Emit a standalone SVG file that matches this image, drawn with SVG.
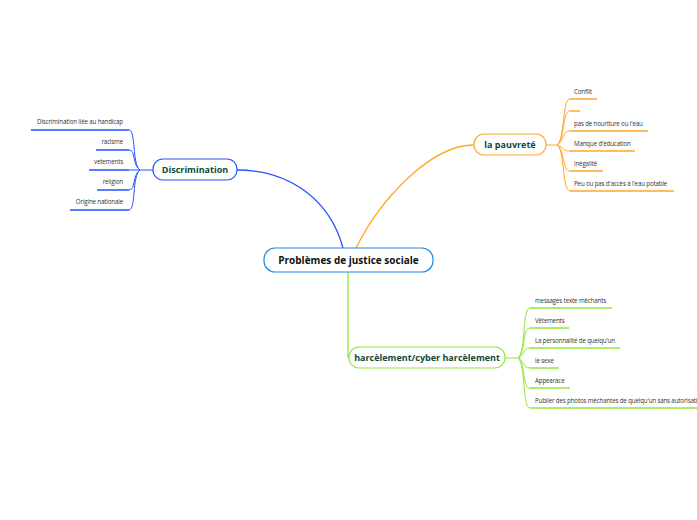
<svg xmlns="http://www.w3.org/2000/svg" width="697" height="520" viewBox="0 0 697 520">
<style>
text{font-family:"Open Sans","Noto Sans",sans-serif;}
.t{font-size:6.2px;fill:#333;letter-spacing:-0.15px}
.n{font-size:9px;font-weight:bold;fill:#0d4a3a}
.b{stroke:#2255ff;fill:none}
.o{stroke:#ffa726;fill:none}
.g{stroke:#8fe83a;fill:none}
</style>
<rect width="697" height="520" fill="#fff"/>
<g id="connectors" stroke-width="1">
<path class="b" d="M343 248 C330 200 290 170 237 170" stroke-width="1.3"/>
<path class="o" d="M356 248 C380 200 430 145 474 145" stroke-width="1.3"/>
<path class="g" d="M348 272 V357 H349" stroke-width="1.3"/>
<g class="o">
<path d="M546 145 H557"/>
<path d="M557 145 C565 140 562 99 570 99"/>
<path d="M557 145 C565 140 562 111 570 111"/>
<path d="M557 145 C565 140 562 131 570 131"/>
<path d="M557 145 C565 148 562 151 570 151"/>
<path d="M557 145 C565 150 562 171 570 171"/>
<path d="M557 145 C565 150 562 191 570 191"/>
</g>
<g class="b">
<path d="M153 170 H140"/>
<path d="M140 170 C132 165 136 130 129 130"/>
<path d="M140 170 C132 165 136 150 129 150"/>
<path d="M140 170 H129"/>
<path d="M140 170 C132 175 136 190 129 190"/>
<path d="M140 170 C132 175 136 210 129 210"/>
</g>
<g class="g">
<path d="M505 358 H518"/>
<path d="M518 358 C526 352 522 308 530 308"/>
<path d="M518 358 C526 352 522 328 530 328"/>
<path d="M518 358 C526 355 522 348 530 348"/>
<path d="M518 358 C526 361 522 368 530 368"/>
<path d="M518 358 C526 364 522 388 530 388"/>
<path d="M518 358 C526 364 522 408 530 408"/>
</g>
</g>
<g id="center">
<rect x="264" y="248" width="169" height="24" rx="11" fill="#fff" stroke="#1e88e5" stroke-width="1.2"/>
<text x="348.5" y="263.5" text-anchor="middle" style="font-size:10px;font-weight:bold;fill:#111">Problèmes de justice sociale</text>
</g>
<g id="pauvrete">
<rect x="474" y="134" width="72" height="21" rx="10" fill="#fff" stroke="#ffa726" stroke-width="1.2"/>
<text class="n" x="510" y="148" text-anchor="middle">la pauvreté</text>
<g stroke="#ffa726" stroke-width="1.5">
<line x1="570" y1="99" x2="597" y2="99"/><line x1="570" y1="111" x2="580" y2="111"/>
<line x1="570" y1="131" x2="648" y2="131"/><line x1="570" y1="151" x2="635" y2="151"/>
<line x1="570" y1="171" x2="603" y2="171"/><line x1="570" y1="191" x2="674" y2="191"/>
</g>
<text class="t" x="574" y="94">Conflit</text>
<text class="t" x="574" y="126">pas de nouriture ou l'eau</text>
<text class="t" x="574" y="146">Manque d'éducation</text>
<text class="t" x="574" y="166">inégalité</text>
<text class="t" x="574" y="186">Peu ou pas d'accès à l'eau potable</text>
</g>
<g id="discrimination">
<rect x="153" y="159" width="84" height="21" rx="10" fill="#fff" stroke="#2255ff" stroke-width="1.2"/>
<text class="n" x="195" y="173" text-anchor="middle">Discrimination</text>
<g stroke="#2255ff" stroke-width="1.5">
<line x1="31" y1="130" x2="129" y2="130"/><line x1="96" y1="150" x2="129" y2="150"/>
<line x1="89" y1="170" x2="129" y2="170"/><line x1="97" y1="190" x2="129" y2="190"/>
<line x1="70" y1="210" x2="129" y2="210"/>
</g>
<g text-anchor="end">
<text class="t" x="123" y="124">Discrimination liée au handicap</text>
<text class="t" x="123" y="144">racisme</text>
<text class="t" x="123" y="164">vetements</text>
<text class="t" x="123" y="184">religion</text>
<text class="t" x="123" y="204">Origine nationale</text>
</g>
</g>
<g id="harcelement">
<rect x="349" y="347" width="156" height="21" rx="10" fill="#fff" stroke="#8fe83a" stroke-width="1.2"/>
<text class="n" x="427" y="361" text-anchor="middle">harcèlement/cyber harcèlement</text>
<g stroke="#8fe83a" stroke-width="1.5">
<line x1="530" y1="308" x2="612" y2="308"/><line x1="530" y1="328" x2="569" y2="328"/>
<line x1="530" y1="348" x2="620" y2="348"/><line x1="530" y1="368" x2="559" y2="368"/>
<line x1="530" y1="388" x2="570" y2="388"/><line x1="530" y1="408" x2="697" y2="408"/>
</g>
<text class="t" x="535" y="303">messages texte méchants</text>
<text class="t" x="535" y="323">Vêtements</text>
<text class="t" x="535" y="343">La personnalité de quelqu'un</text>
<text class="t" x="535" y="363">le sexe</text>
<text class="t" x="535" y="383">Appearace</text>
<text class="t" x="535" y="403">Publier des photos méchantes de quelqu'un sans autorisation</text>
</g>
</svg>
